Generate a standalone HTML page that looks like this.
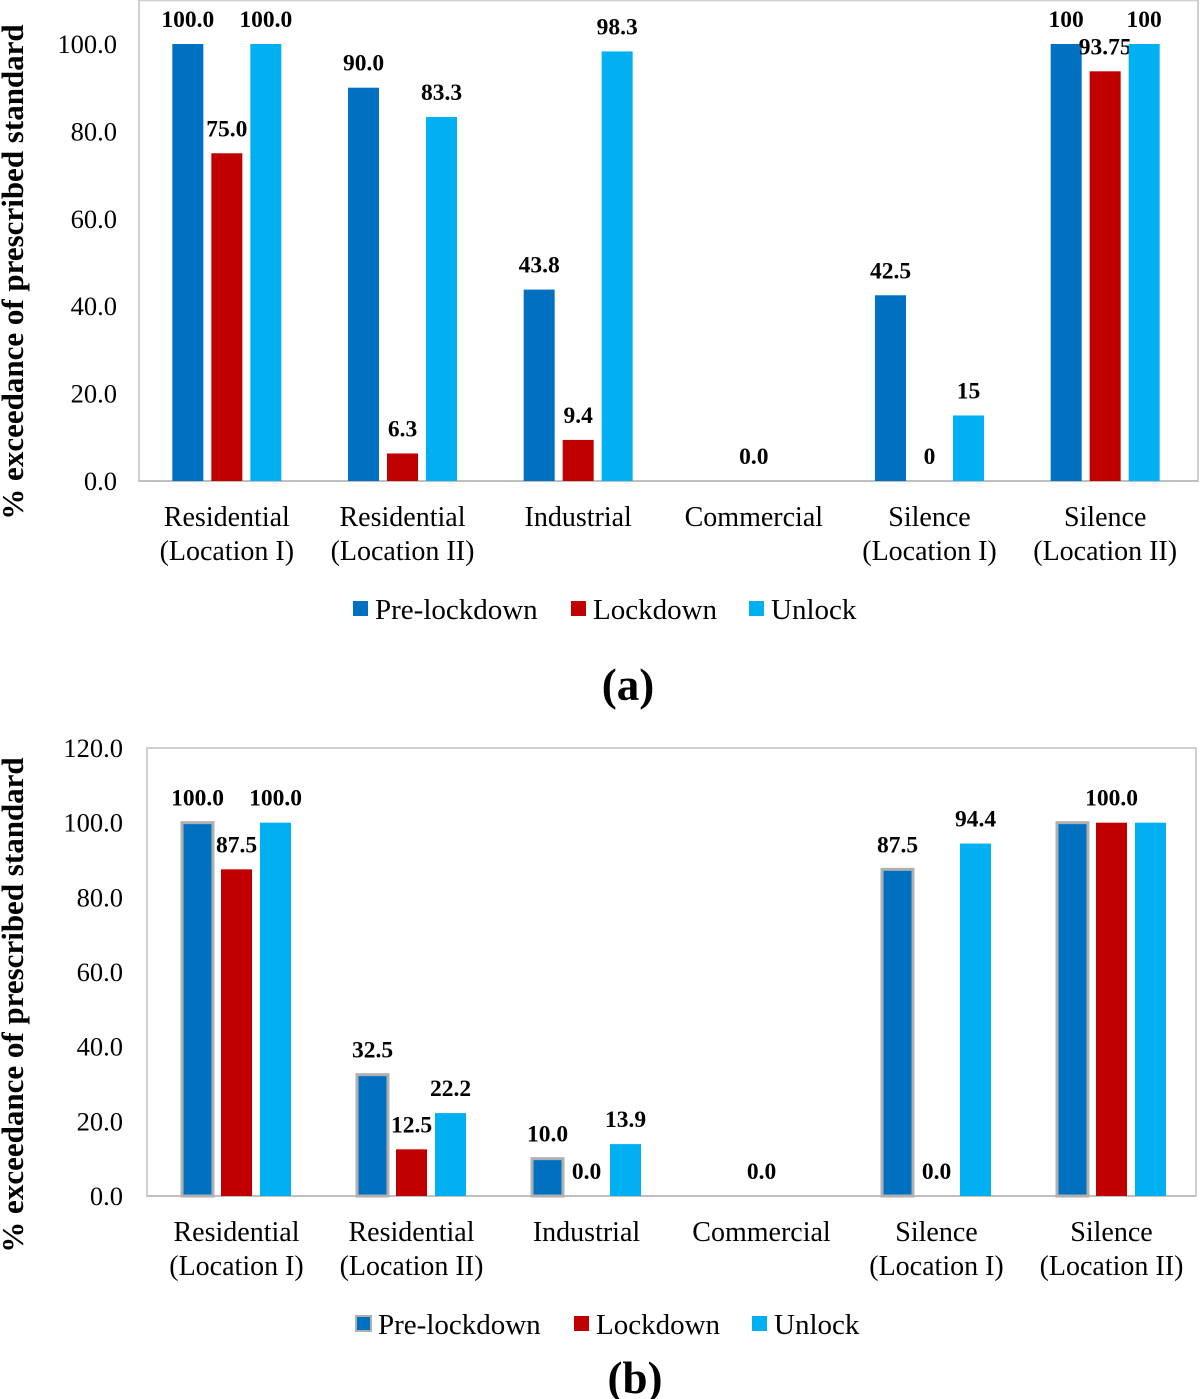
<!DOCTYPE html>
<html><head><meta charset="utf-8"><style>
body{margin:0;background:#fff;}
svg{display:block;font-family:"Liberation Serif",serif;}
</style></head><body>
<svg id="svg" width="1200" height="1399" viewBox="0 0 1200 1399"></svg>
<script>
const categories = ["Residential|(Location I)","Residential|(Location II)","Industrial","Commercial","Silence|(Location I)","Silence|(Location II)"];
const seriesNames = ["Pre-lockdown","Lockdown","Unlock"];
const colors = ["#0070c0","#c00000","#00b0f0"];
// chart (a)
const aPre = [100,90,43.8,0,42.5,100];
const aLock = [75,6.3,9.4,0,0,93.75];
const aUnlock = [100,83.3,98.3,0,15,100];
const aPreLabels = ["100.0","90.0","43.8","","42.5","100"];
const aLockLabels = ["75.0","6.3","9.4","0.0","0","93.75"];
const aUnlockLabels = ["100.0","83.3","98.3","","15","100"];
const aTicks = ["0.0","20.0","40.0","60.0","80.0","100.0"];
// chart (b)
const bPre = [100,32.5,10,0,87.5,100];
const bLock = [87.5,12.5,0,0,0,100];
const bUnlock = [100,22.2,13.9,0,94.4,100];
const bPreLabels = ["100.0","32.5","10.0","","87.5",""];
const bLockLabels = ["87.5","12.5","0.0","0.0","0.0","100.0"];
const bUnlockLabels = ["100.0","22.2","13.9","","94.4",""];
const bTicks = ["0.0","20.0","40.0","60.0","80.0","100.0","120.0"];

const NS="http://www.w3.org/2000/svg";
const svg=document.getElementById('svg');
function mk(tag,attrs,parent,text){const e=document.createElementNS(NS,tag);for(const k in attrs)e.setAttribute(k,attrs[k]);if(text!==undefined)e.textContent=text;(parent||svg).appendChild(e);return e;}

function chart(o){
  const g=mk('g',{});
  
  
  const y=v=>o.y0-(v-0)*(o.y0-o.yTop)/o.max;
  const box=mk('rect',{x:o.left,y:o.yTop,width:o.right-o.left,height:o.y0-o.yTop,fill:'none',stroke:'#d0d0d0','stroke-width':2},g);
  
  
  const ax=mk('line',{x1:o.left,x2:o.right,y1:o.y0,y2:o.y0,stroke:'#bfbfbf','stroke-width':2},g);
  
  
  o.ticks.forEach((t,i)=>{
    const tl=mk('text',{x:o.tickX,y:y(i*20)+9,'text-anchor':'end','font-size':26.5,fill:'#000'},g,t);
    
    
  });
  const yt=mk('text',{x:0,y:0,transform:`translate(23,${o.titleY}) rotate(-90)`,'text-anchor':'middle','font-size':31,'font-weight':'bold'},g,'% exceedance of prescribed standard');
  
  
  const step=(o.catR-o.catL)/categories.length;
  const data=[o.pre,o.lock,o.unlock], labels=[o.preL,o.lockL,o.unlockL];
  categories.forEach((c,i)=>{
    const cx=o.catL+step*(i+0.5);
    data.forEach((s,k)=>{
      const bx=cx+(k-1)*39-15.5, v=s[i];
      if(v>0){
        const r=mk('rect',{x:bx,y:y(v),width:31,height:o.y0-y(v),fill:colors[k]},g);
        if(o.outline&&k===0){r.setAttribute('stroke','#b0b0b0');r.setAttribute('stroke-width',3);}
        
        
      }
      const lab=labels[k][i];
      if(lab){
        const t=mk('text',{x:bx+15.5,y:y(v)-17,'text-anchor':'middle','font-size':23.5,'font-weight':'bold'},g,lab);
        
        
      }
    });
    c.split('|').forEach((ln,j)=>{
      const t=mk('text',{x:cx,y:o.y0+45+j*34,'text-anchor':'middle','font-size':28},g,ln);
      
      
    });
  });
  const lx=[o.legX,o.legX+218,o.legX+396];
  seriesNames.forEach((n,k)=>{
    const sq=mk('rect',{x:lx[k],y:o.legY-8,width:15,height:15,fill:colors[k]},g);
    if(o.outline&&k===0){sq.setAttribute('stroke','#b0b0b0');sq.setAttribute('stroke-width',2);}
    
    
    const t=mk('text',{x:lx[k]+22,y:o.legY+10,'font-size':29},g,n);
    
    
  });
  const cap=mk('text',{x:o.capX,y:o.capY,'text-anchor':'middle','font-size':45,'font-weight':'bold'},g,o.cap);
  
  
}
chart({name:'chart-a',left:139,right:1198,catL:139,catR:1193,y0:481,yTop:0.3,max:110,ticks:aTicks,tickX:117,titleY:272,
  pre:aPre,lock:aLock,unlock:aUnlock,preL:aPreLabels,lockL:aLockLabels,unlockL:aUnlockLabels,
  outline:false,legX:353,legY:609,cap:'(a)',capX:628,capY:700});
chart({name:'chart-b',left:147,right:1196,catL:149,catR:1199,y0:1196,yTop:748,max:120,ticks:bTicks,tickX:123,titleY:1005,
  pre:bPre,lock:bLock,unlock:bUnlock,preL:bPreLabels,lockL:bLockLabels,unlockL:bUnlockLabels,
  outline:true,legX:356,legY:1324,cap:'(b)',capX:635,capY:1393});
</script>
</body></html>
